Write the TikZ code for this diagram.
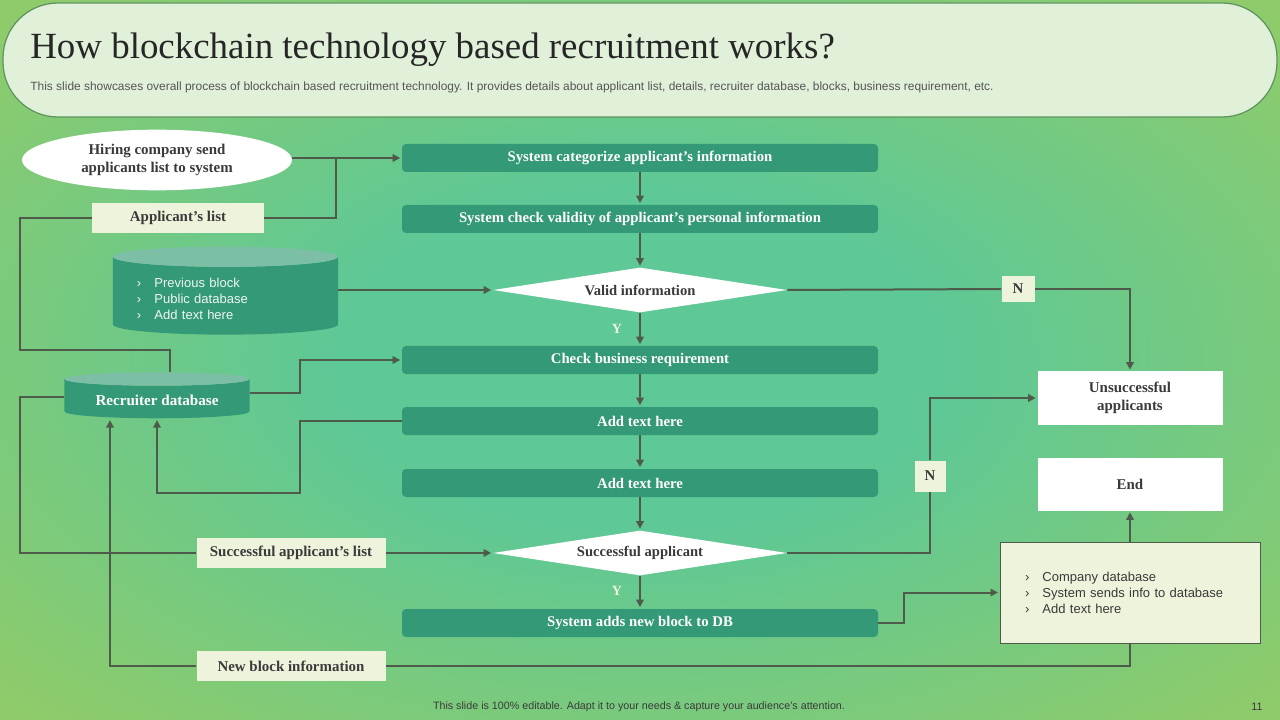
\documentclass[tikz,border=0pt]{standalone}
\usepackage{fontspec}
\setmainfont{Liberation Serif}
\setsansfont{Liberation Sans}
\usetikzlibrary{positioning,arrows.meta,shapes.geometric}

\definecolor{stepgreen}{RGB}{51,153,118}
\definecolor{capgreen}{RGB}{125,191,166}
\definecolor{cream}{RGB}{238,243,220}
\definecolor{wirecol}{RGB}{78,90,74}
\definecolor{darktext}{RGB}{58,58,58}
\definecolor{greytext}{RGB}{85,85,85}
\definecolor{barfill}{RGB}{225,240,217}
\definecolor{barline}{RGB}{95,150,95}
\definecolor{bgin}{RGB}{94,200,150}
\definecolor{bgmid}{RGB}{138,203,110}
\definecolor{bgout}{RGB}{168,204,90}

\pgfdeclareradialshading{slidebg}{\pgfpoint{0bp}{0bp}}{color(0bp)=(bgin); color(12bp)=(bgin); color(32bp)=(bgmid); color(47bp)=(bgout); color(80bp)=(bgout)}

\newcommand{\bul}{\makebox[3.5mm][l]{›}}

\begin{document}
\begin{tikzpicture}[
  x=0.2mm, y=-0.2mm,
  stepbox/.style={fill=stepgreen, rounded corners=0.8mm, minimum width=95.2mm,
                  minimum height=5.6mm, text=white, font=\bfseries\fontsize{8.4}{10}\selectfont},
  decision/.style={diamond, fill=white, aspect=6.5, inner sep=0pt, minimum width=58.8mm,
                   minimum height=9mm, text=darktext, font=\bfseries\fontsize{8.3}{9.6}\selectfont},
  tag/.style={fill=cream, minimum height=6mm, text=darktext,
              font=\bfseries\fontsize{8.5}{10}\selectfont},
  outbox/.style={fill=white, minimum width=37mm, minimum height=10.6mm, align=center,
                 text=darktext, font=\bfseries\fontsize{8.5}{10}\selectfont},
  store/.style={cylinder, shape border rotate=90, cylinder uses custom fill,
                cylinder body fill=stepgreen, cylinder end fill=capgreen},
  bullets/.style={align=left, font=\sffamily\fontsize{7.4}{9.1}\selectfont},
  wire/.style={draw=wirecol, line width=0.4mm},
  flow/.style={wire, -{Triangle[length=1.5mm, width=1.5mm]}, shorten >=0.3mm},
  yes/.style={text=cream, font=\bfseries\fontsize{8}{9}\selectfont},
]
  \useasboundingbox (0,0) rectangle (1280,720);
  \shade[shading=slidebg] (0,0) rectangle (1280,720);

  % title bar
  \draw[fill=barfill, draw=barline, line width=0.25mm, rounded corners=11mm] (3,3) rectangle (1277,117);
  \node[anchor=base west, inner sep=0pt, text=black!85, font=\fontsize{21}{24}\selectfont] (title) at (30,59)
    {How blockchain technology based recruitment works?};
  \node[anchor=west, inner sep=0pt, text=greytext, font=\sffamily\fontsize{6.8}{8}\selectfont] (subtitle) at (30,87)
    {This slide showcases overall process of blockchain based recruitment technology. It provides details about applicant list, details, recruiter database, blocks, business requirement, etc.};

  % main column
  \node[stepbox] (cat) at (640,158) {System categorize applicant’s information};
  \node[stepbox] (verify) at (640,219) {System check validity of applicant’s personal information};
  \node[decision] (valid) at (640,290) {Valid information};
  \node[stepbox] (biz) at (640,360) {Check business requirement};
  \node[stepbox] (addA) at (640,421) {Add text here};
  \node[stepbox] (addB) at (640,483) {Add text here};
  \node[decision] (succ) at (640,553) {Successful applicant};
  \node[stepbox] (newblk) at (640,623) {System adds new block to DB};
  \node[yes] (yA) at (617,329) {Y};
  \node[yes] (yB) at (617,591) {Y};

  % left side
  \node[ellipse, fill=white, minimum width=54mm, minimum height=12mm, align=center, text=darktext,
        font=\bfseries\fontsize{8.5}{10}\selectfont] (hire) at (157,160)
    {Hiring company send\\applicants list to system};
  \node[tag, minimum width=34.2mm] (alist) at (178,218) {Applicant’s list};
  \node[store, bullets, aspect=0.09, minimum width=45mm, minimum height=17.6mm,
        text width=35.4mm, inner xsep=4.8mm, text=white!92!stepgreen] (prevdb) at (225.5,299)
    {\bul Previous block\\ \bul Public database\\ \bul Add text here};
  \node[store, aspect=0.1, minimum width=37mm, minimum height=9.2mm, text=white,
        font=\bfseries\fontsize{8.6}{10}\selectfont] (recdb) at (157,400) {Recruiter database};
  \node[tag, minimum width=37.8mm] (sucl) at (291,553) {Successful applicant’s list};
  \node[tag, minimum width=37.8mm] (newb) at (291,666) {New block information};

  % right side
  \node[tag, minimum width=6.6mm, minimum height=5.2mm] (nv) at (1018,289) {N};
  \node[tag, minimum width=6.2mm, minimum height=6.2mm] (ns) at (930,476) {N};
  \node[outbox] (unsucc) at (1130,398) {Unsuccessful\\applicants};
  \node[outbox] (endn) at (1130,484) {End};
  \node[bullets, fill=cream, draw=wirecol, line width=0.2mm, minimum width=52mm, minimum height=20.2mm,
        text width=42mm, inner xsep=5mm, text=darktext] (compdb) at (1130,592.5)
    {\bul Company database\\ \bul System sends info to database\\ \bul Add text here};

  \coordinate (join) at (336,158);
  \coordinate (lbend) at (20,350);
  \coordinate (loopc) at (300,493);
  \coordinate (lcorner) at (20,553);

  % connectors
  \foreach \a/\b in {cat/verify, verify/valid, valid/biz, biz/addA, addA/addB, addB/succ, succ/newblk}
    \draw[flow] (\a.south) -- (\b.north);
  \draw[flow] (hire.east |- cat) -- (cat.west);
  \draw[wire] (alist.east) -| (join);
  \draw[wire] (alist.west) -| (lbend) -| ([xshift=2.6mm]recdb.north);
  \draw[flow] (prevdb.east |- valid.west) -- (valid.west);
  \draw[flow] ([yshift=1.3mm]recdb.east) -- ++(50,0) |- (biz.west);
  \draw[flow] (addA.west) -| (loopc) -| (recdb.south);
  \draw[wire] ([yshift=0.6mm]recdb.west) -| (lcorner) -- (sucl.west);
  \draw[flow] (sucl.east) -- (succ.west);
  \draw[flow] (newb.west) -| ([xshift=-9.4mm]recdb.south);
  \draw[wire] (compdb.south) |- (newb.east);
  \draw[wire] (valid.east) -- (nv.west);
  \draw[flow] (nv.east) -| (unsucc.north);
  \draw[wire] (succ.east) -| (ns.south);
  \draw[flow] (ns.north) |- (unsucc.west);
  \draw[flow] (newblk.east) -- ++(26,0) |- (compdb.west);
  \draw[flow] (compdb.north) -- (endn.south);

  % footer
  \node[text=darktext, font=\sffamily\fontsize{6.1}{7}\selectfont] (foot) at (639,707)
    {This slide is 100\% editable.  Adapt it to your needs \& capture your audience’s attention.};
  \node[text=darktext, font=\sffamily\fontsize{6.1}{7}\selectfont] (pageno) at (1257,707) {11};
\end{tikzpicture}
\end{document}
